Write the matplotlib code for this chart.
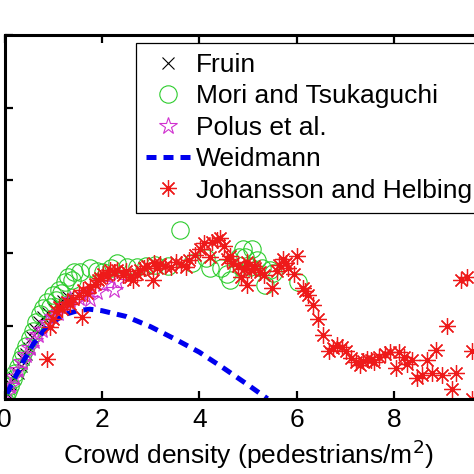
import matplotlib
matplotlib.use("Agg")
import matplotlib.pyplot as plt

plt.rcParams['font.family'] = ['Liberation Sans', 'DejaVu Sans']

# ---- data ----
fruin_x = [0.05, 0.12, 0.20, 0.27, 0.33, 0.39, 0.45, 0.50, 0.57, 0.63, 0.70, 0.80, 0.90, 1.00, 1.10, 1.20, 1.30]
fruin_y = [0.07, 0.20, 0.29, 0.36, 0.45, 0.54, 0.62, 0.70, 0.85, 0.96, 1.06, 1.12, 1.18, 1.25, 1.30, 1.35, 1.40]

mori_x = [0.00, 0.04, 0.08, 0.12, 0.17, 0.22, 0.27, 0.33, 0.39, 0.45, 0.52, 0.58, 0.65, 0.72, 0.80,
          0.88, 0.94, 1.00, 1.05, 1.12, 1.15, 1.25, 1.30, 1.39, 1.42, 1.56, 1.76, 1.90, 2.03, 2.18,
          2.32, 2.52, 2.72, 2.90, 3.10, 3.35, 3.60, 3.85, 4.14, 4.22, 4.45, 4.57, 4.63, 4.82, 4.90,
          4.94, 5.04, 5.08, 5.18, 5.29, 5.35, 5.45, 5.51, 6.02]
mori_y = [-0.03, 0.03, 0.10, 0.18, 0.27, 0.36, 0.44, 0.54, 0.63, 0.72, 0.83, 0.93, 1.05, 1.16, 1.25,
          1.33, 1.26, 1.42, 1.36, 1.50, 1.45, 1.60, 1.67, 1.63, 1.74, 1.74, 1.79, 1.76, 1.74, 1.80,
          1.86, 1.81, 1.81, 1.82, 1.84, 1.83, 2.32, 1.86, 1.93, 1.79, 1.80, 1.72, 1.63, 1.95, 2.06,
          1.95, 1.81, 2.06, 1.90, 1.79, 1.56, 1.77, 1.73, 1.60]

polus_x = [0.05, 0.12, 0.20, 0.28, 0.36, 0.44, 0.52, 0.60, 0.68, 0.76, 0.88, 1.00, 1.10, 1.25, 1.35,
           1.52, 1.65, 1.76, 1.90, 2.03, 2.24, 2.30]
polus_y = [0.08, 0.18, 0.30, 0.40, 0.50, 0.60, 0.70, 0.80, 0.88, 0.95, 1.04, 1.12, 1.18, 1.28, 1.36,
           1.38, 1.42, 1.37, 1.46, 1.58, 1.50, 1.60]

weid_x = [0.05, 0.20, 0.40, 0.60, 0.80, 1.00, 1.25, 1.50, 1.75, 2.00, 2.50, 3.00, 3.50, 4.00,
          4.50, 5.00, 5.40]
weid_y = [0.07, 0.27, 0.53, 0.76, 0.93, 1.06, 1.16, 1.21, 1.23, 1.21, 1.13, 0.99, 0.82, 0.64,
          0.42, 0.19, 0.00]

jh_x = [0.88, 0.94, 1.00, 1.05, 1.12, 1.19, 1.29, 1.35, 1.41, 1.52, 1.60, 1.62, 1.70, 1.76, 1.85,
        1.91, 1.97, 2.03, 2.10, 2.17, 2.25, 2.32, 2.44, 2.50, 2.58, 2.64, 2.72, 2.79, 2.86, 2.93,
        3.05, 3.08, 3.14, 3.20, 3.30, 3.42, 3.52, 3.63, 3.72, 3.78, 3.91, 4.02, 4.10, 4.22, 4.27,
        4.36, 4.43, 4.50, 4.57, 4.63, 4.69, 4.80, 4.86, 4.92, 4.98, 4.98, 5.06, 5.12, 5.15, 5.25,
        5.32, 5.49, 5.59, 5.64, 5.72, 5.78, 5.82, 5.94, 6.01, 6.12, 6.18, 6.24, 6.34, 6.44, 6.55,
        6.67, 6.75, 6.83, 6.93, 7.02, 7.12, 7.22, 7.30, 7.37, 7.44, 7.52, 7.59, 7.70, 7.82, 7.91,
        8.03, 8.11, 8.20, 8.26, 8.36, 8.46, 8.57, 8.67, 8.77, 8.87, 8.98, 9.08, 9.18, 9.28, 9.38,
        9.50, 9.60, 9.60]
jh_y = [0.54, 0.99, 1.10, 1.21, 1.26, 1.23, 1.33, 1.30, 1.37, 1.42, 1.12, 1.49, 1.45, 1.53, 1.58,
        1.63, 1.66, 1.72, 1.70, 1.77, 1.74, 1.77, 1.70, 1.75, 1.67, 1.63, 1.72, 1.77, 1.80, 1.83,
        1.63, 1.86, 1.80, 1.85, 1.82, 1.81, 1.88, 1.85, 1.81, 1.91, 1.97, 2.06, 2.14, 1.95, 2.15,
        2.18, 2.21, 2.10, 1.92, 1.96, 1.86, 1.83, 1.67, 1.78, 1.88, 1.56, 1.77, 1.82, 1.80, 1.74,
        1.70, 1.52, 1.76, 1.84, 1.92, 1.86, 1.80, 1.72, 1.96, 1.52, 1.48, 1.42, 1.29, 1.10, 0.87,
        0.66, 0.70, 0.74, 0.71, 0.66, 0.56, 0.50, 0.46, 0.52, 0.55, 0.53, 0.50, 0.58, 0.61, 0.64,
        0.42, 0.64, 0.58, 0.48, 0.53, 0.29, 0.33, 0.53, 0.35, 0.67, 0.33, 1.00, 0.14, 0.35, 1.63,
        1.67, 0.65, 0.00]

labels = ["Fruin", "Mori and Tsukaguchi", "Polus et al.", "Weidmann", "Johansson and Helbing"]
x_ticks = [0, 2, 4, 6, 8, 10]
y_ticks = [0, 1, 2, 3, 4, 5]

# ---- figure ----
W = H = 474
FS = 19
fig = plt.figure(figsize=(W / 100, H / 100), dpi=100)
ax = fig.add_axes([4.5 / W, (H - 398.7) / H, 487 / W, 363.7 / H])

ax.plot(fruin_x, fruin_y, linestyle='none', marker='x', ms=8, mew=0.8, color='black', label=labels[0])
ax.plot(mori_x, mori_y, linestyle='none', marker='o', ms=12.5, mew=0.8, mfc='none',
        color='#2ccc2c', label=labels[1])
ax.plot(polus_x, polus_y, linestyle='none', marker='*', ms=13, mew=0.8, mfc='none',
        color='#d030d0', label=labels[2])
ax.plot(weid_x, weid_y, color='#0000ee', lw=3.6, linestyle=(0, (2.0, 1.4)),
        dash_capstyle='butt', label=labels[3])
ax.plot(jh_x, jh_y, linestyle='none', marker=(8, 2, 0), ms=12, mew=0.9,
        color='#ee1a1a', label=labels[4])

ax.set_xlim(0, 10)
ax.set_ylim(0, 5)
ax.set_xticks(x_ticks)
ax.set_yticks(y_ticks)
ax.tick_params(direction='in', length=6, width=1.6, labelsize=FS, top=True, right=True, pad=7)
for s in ax.spines.values():
    s.set_linewidth(2.2)
ax.set_xlabel("Crowd density (pedestrians/m$^2$)", fontsize=FS, labelpad=4)

leg = ax.legend(loc='upper left', bbox_to_anchor=(136 / W, 1 - 43 / H), bbox_transform=fig.transFigure,
                borderaxespad=0, fontsize=FS, numpoints=1, handlelength=1.67, handletextpad=0.23,
                borderpad=0.38, labelspacing=0.28, fancybox=False, framealpha=1)
leg.get_frame().set_edgecolor('black')
leg.get_frame().set_linewidth(0.9)

fig.savefig("out.png", dpi=100)
